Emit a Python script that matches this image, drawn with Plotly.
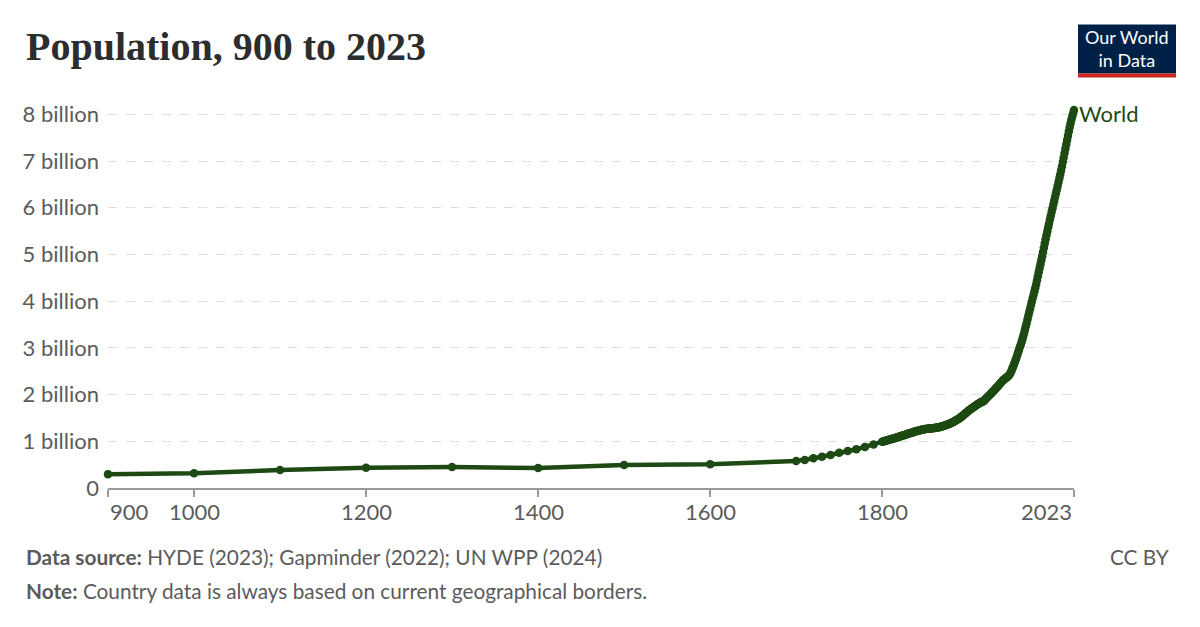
import plotly.graph_objects as go

# ---- Data (population in millions) ----
early_years = [900, 1000, 1100, 1200, 1300, 1400, 1500, 1600, 1700,
               1710, 1720, 1730, 1740, 1750, 1760, 1770, 1780, 1790]
early_pop = [297, 315, 386, 434, 448, 430, 492, 510, 578,
             600, 635, 670, 706, 755, 790, 830, 880, 930]

# Annual values 1800-1949 (Gapminder-era estimates)
pop_1800s = [989, 994, 1000, 1005, 1011, 1016, 1022, 1027, 1033, 1038,
             1044, 1049, 1055, 1060, 1066, 1071, 1077, 1082, 1088, 1094,
             1100, 1106, 1112, 1118, 1124, 1130, 1136, 1142, 1148, 1154,
             1160, 1166, 1172, 1178, 1184, 1190, 1196, 1202, 1208, 1213,
             1218, 1223, 1228, 1233, 1238, 1243, 1247, 1251, 1255, 1259,
             1263, 1265, 1267, 1269, 1271, 1273, 1275, 1277, 1279, 1281,
             1284, 1286, 1289, 1292, 1295, 1298, 1302, 1306, 1310, 1315,
             1320, 1326, 1333, 1340, 1347, 1354, 1361, 1367, 1374, 1382,
             1390, 1399, 1409, 1419, 1429, 1440, 1451, 1462, 1473, 1484,
             1495, 1509, 1523, 1537, 1552, 1567, 1582, 1598, 1614, 1632]
pop_1900s = [1650, 1663, 1676, 1689, 1702, 1715, 1728, 1741, 1754, 1767,
             1780, 1792, 1804, 1816, 1828, 1838, 1847, 1855, 1858, 1880,
             1903, 1921, 1939, 1957, 1975, 1993, 2012, 2031, 2050, 2070,
             2090, 2110, 2130, 2150, 2170, 2190, 2210, 2231, 2252, 2273,
             2295, 2312, 2328, 2343, 2356, 2369, 2385, 2405, 2428, 2456]
# Annual values 1950-2023 (UN WPP-era)
pop_1950s = [2493, 2540, 2588, 2636, 2686, 2737, 2790, 2844, 2899, 2957,
             3019, 3064, 3119, 3186, 3253, 3321, 3391, 3461, 3534, 3612,
             3691, 3767, 3843, 3919, 3994, 4067, 4139, 4211, 4285, 4363,
             4447, 4533, 4620, 4706, 4791, 4877, 4964, 5054, 5145, 5236,
             5327, 5414, 5498, 5582, 5665, 5747, 5828, 5909, 5989, 6069,
             6149, 6229, 6308, 6388, 6468, 6549, 6631, 6714, 6798, 6883,
             6986, 7077, 7170, 7263, 7356, 7449, 7542, 7634, 7722, 7807,
             7887, 7954, 8021, 8092]

annual_years = list(range(1800, 2024))
annual_pop = pop_1800s + pop_1900s + pop_1950s

years = early_years + annual_years
population = [v * 1e6 for v in early_pop + annual_pop]

y_ticks = [0, 1e9, 2e9, 3e9, 4e9, 5e9, 6e9, 7e9, 8e9]
y_labels = ["0", "1 billion", "2 billion", "3 billion", "4 billion",
            "5 billion", "6 billion", "7 billion", "8 billion"]
x_ticks = [900, 1000, 1200, 1400, 1600, 1800, 2023]
x_labels = ["900", "1000", "1200", "1400", "1600", "1800", "2023"]

title = "Population, 900 to 2023"
series_name = "World"
source_text = "<b>Data source:</b> HYDE (2023); Gapminder (2022); UN WPP (2024)"
note_text = "<b>Note:</b> Country data is always based on current geographical borders."

LINE = "#1d4a12"
GREY = "#5b5b5b"
FONT = "Lato"
TICK_SIZE = 22
FOOT_SIZE = 20.8

# ---- Layout geometry (pixels) ----
W, H = 1200, 627
PLOT_LEFT, PLOT_RIGHT = 108, 1074
ZERO_Y, TOP_TICK_Y = 488, 114
Y_MAX = 8.2e9
px_per_unit = (ZERO_Y - TOP_TICK_Y) / 8e9
plot_top = ZERO_Y - Y_MAX * px_per_unit
L, R, T, B = PLOT_LEFT, W - PLOT_RIGHT, plot_top, H - ZERO_Y
pw, ph = W - L - R, H - T - B

fig = go.Figure()
fig.add_trace(go.Scatter(
    x=years, y=population, mode="lines+markers", name=series_name,
    line=dict(color=LINE, width=4.5),
    marker=dict(color=LINE, size=8.5),
    cliponaxis=False, hoverinfo="skip", showlegend=False,
))

fig.update_layout(
    width=W, height=H,
    margin=dict(l=L, r=R, t=T, b=B, autoexpand=False),
    paper_bgcolor="white", plot_bgcolor="white",
    font=dict(family=FONT, color=GREY, size=TICK_SIZE),
    xaxis=dict(
        range=[900, 2023], tickvals=x_ticks, showticklabels=False,
        ticks="outside", ticklen=7, tickcolor="#999", tickwidth=1.5,
        showline=True, linecolor="#999", linewidth=1.5,
        showgrid=False, zeroline=False, fixedrange=True,
    ),
    yaxis=dict(
        range=[0, Y_MAX], tickvals=y_ticks, ticktext=y_labels,
        showgrid=True, gridcolor="#dddddd", griddash="dash", gridwidth=1,
        zeroline=False, showline=False, ticks="",
        ticklabelstandoff=8,
        tickfont=dict(family=FONT, size=TICK_SIZE, color=GREY),
    ),
)

annotations = []
for xv, lab in zip(x_ticks, x_labels):
    anchor = "center"
    if xv == x_ticks[0]:
        anchor = "left"
    elif xv == x_ticks[-1]:
        anchor = "right"
    annotations.append(dict(
        x=xv, y=0, xref="x", yref="y", text=lab, showarrow=False,
        xanchor=anchor, yanchor="top", yshift=-8,
        font=dict(family=FONT, size=TICK_SIZE, color=GREY),
    ))

# series label at the end of the line
annotations.append(dict(
    x=years[-1], y=population[-1], xref="x", yref="y", text=series_name,
    showarrow=False, xanchor="left", yanchor="middle", xshift=3, yshift=-3,
    font=dict(family=FONT, size=TICK_SIZE, color=LINE),
))

pixel_annots = [
    dict(x=24, y=46, text=title, xanchor="left",
         font=dict(family="Liberation Serif", size=40, color="#2d2d2d", weight="bold")),
    dict(x=24, y=557, text=source_text, xanchor="left",
         font=dict(family=FONT, size=FOOT_SIZE, color=GREY)),
    dict(x=24, y=591, text=note_text, xanchor="left",
         font=dict(family=FONT, size=FOOT_SIZE, color=GREY)),
    dict(x=1171, y=557, text="CC BY", xanchor="right",
         font=dict(family=FONT, size=FOOT_SIZE, color=GREY)),
    dict(x=1127, y=48, text="Our World<br>in Data", xanchor="center", align="center",
         font=dict(family=FONT, size=18, color="white")),
]
for a in pixel_annots:
    a["xref"] = "paper"
    a["yref"] = "paper"
    a["x"] = (a["x"] - L) / pw
    a["y"] = 1 - (a["y"] - T) / ph
    a["yanchor"] = "middle"
    a["showarrow"] = False
    annotations.append(a)

fig.update_layout(annotations=annotations)

def px_to_paper(px, py):
    return (px - L) / pw, 1 - (py - T) / ph

x0, y0 = px_to_paper(1078, 24)
x1, y1 = px_to_paper(1176, 73)
x2, y2 = px_to_paper(1176, 77)
fig.add_shape(type="rect", xref="paper", yref="paper", x0=x0, y0=y1, x1=x1, y1=y0,
              fillcolor="#002147", line=dict(width=0), layer="below")
fig.add_shape(type="rect", xref="paper", yref="paper", x0=x0, y0=y2, x1=x1, y1=y1,
              fillcolor="#ce261e", line=dict(width=0), layer="below")

fig.write_html("out.html", config={"displayModeBar": False},
               post_script="document.body.style.margin='0';")
